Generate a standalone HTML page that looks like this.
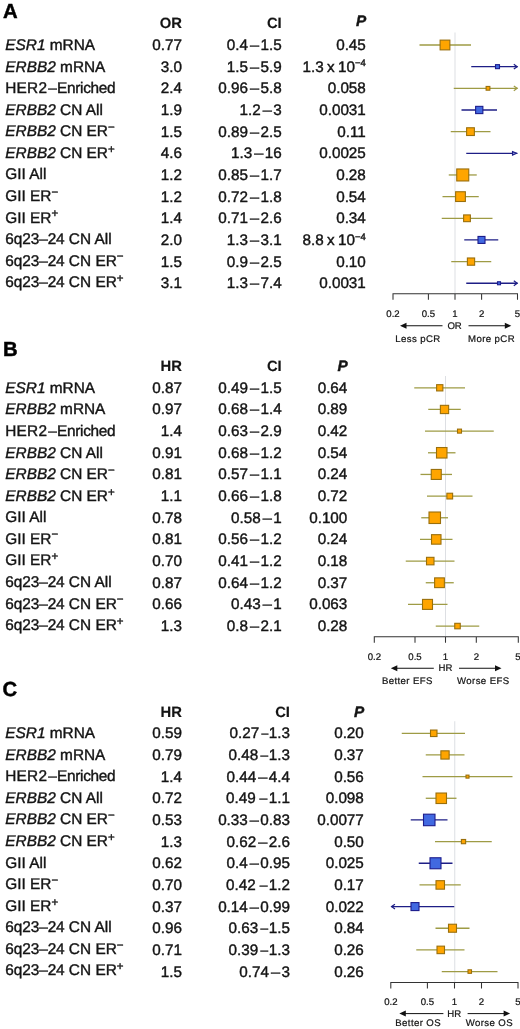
<!DOCTYPE html>
<html><head><meta charset="utf-8"><title>Forest plots</title>
<style>
html,body{margin:0;padding:0;background:#fff;}
svg{display:block;filter:blur(0.4px);font-family:"Liberation Sans",Arial,Helvetica,sans-serif;font-size:15.25px;fill:#141414;}
text{stroke:#141414;stroke-width:0.4px;text-rendering:geometricPrecision;}
text.b{stroke-width:0.15px;font-weight:bold;font-size:14.8px;}
text.L{font-weight:bold;font-size:20.3px;fill:#000;stroke:#000;stroke-width:0.45px;}
text.p{font-style:italic;font-size:15.3px;stroke-width:0.4px;}
text.s{stroke-width:0.22px;font-size:9.6px;text-rendering:geometricPrecision;}
</style></head><body>
<svg width="520" height="1029" viewBox="0 0 520 1029">
<rect width="520" height="1029" fill="#ffffff"/>
<!-- section A -->
<text x="2.90" y="18.00" text-anchor="start" class="L">A</text>
<text x="181.85" y="28.00" text-anchor="end" class="b">OR</text>
<text x="281.75" y="28.00" text-anchor="end" class="b">CI</text>
<text x="366.15" y="26.30" text-anchor="end" class="b p">P</text>
<line x1="455" y1="32.5" x2="455" y2="293.75" stroke="#c6c9d0" stroke-width="0.6"/>
<text x="5.30" y="50.00" text-anchor="start" font-size="15.4"><tspan font-style="italic">ESR1</tspan> mRNA</text>
<text x="182.05" y="50.00" text-anchor="end">0.77</text>
<text x="281.65" y="50.00" text-anchor="end">1.5</text>
<text transform="translate(249.95 50.00) scale(1.073 1)">–</text>
<text x="248.05" y="50.00" text-anchor="end">0.4</text>
<text x="365.85" y="50.00" text-anchor="end">0.45</text>
<line x1="419.5" y1="45.00" x2="471" y2="45.00" stroke="#9e9b45" stroke-width="1.3"/>
<rect x="440.12" y="40.12" width="9.75" height="9.75" fill="#ffa500" stroke="#9a6f0c" stroke-width="1.1"/>
<text x="5.30" y="71.57" text-anchor="start" font-size="15.4"><tspan font-style="italic">ERBB2</tspan> mRNA</text>
<text x="182.05" y="71.66" text-anchor="end">3.0</text>
<text x="281.65" y="71.66" text-anchor="end">5.9</text>
<text transform="translate(249.95 71.66) scale(1.073 1)">–</text>
<text x="248.05" y="71.66" text-anchor="end">1.5</text>
<text x="365.85" y="71.66" text-anchor="end" word-spacing="-0.9">1.3 x 10<tspan font-size="9.5" dy="-5.4">−4</tspan></text>
<line x1="471.25" y1="66.66" x2="517.5" y2="66.66" stroke="#1e1e86" stroke-width="1.3"/>
<path d="M513.80 64.26 L517.20 66.66 L513.80 69.06" fill="none" stroke="#1e1e86" stroke-width="1.2"/>
<rect x="495.50" y="64.66" width="4.00" height="4.00" fill="#4169e1" stroke="#1c1c8c" stroke-width="1.1"/>
<text x="5.30" y="93.14" text-anchor="start" font-size="15.4"><tspan letter-spacing="0.2">HER2</tspan><tspan dx="1.0">–</tspan><tspan dx="0.3" letter-spacing="-0.3">Enriched</tspan></text>
<text x="182.05" y="93.32" text-anchor="end">2.4</text>
<text x="281.65" y="93.32" text-anchor="end">5.8</text>
<text transform="translate(249.95 93.32) scale(1.073 1)">–</text>
<text x="248.05" y="93.32" text-anchor="end">0.96</text>
<text x="365.85" y="93.32" text-anchor="end">0.058</text>
<line x1="453.75" y1="88.32" x2="517.5" y2="88.32" stroke="#9e9b45" stroke-width="1.3"/>
<path d="M513.80 85.92 L517.20 88.32 L513.80 90.72" fill="none" stroke="#9e9b45" stroke-width="1.2"/>
<rect x="486.12" y="86.44" width="3.75" height="3.75" fill="#ffa500" stroke="#9a6f0c" stroke-width="1.1"/>
<text x="5.30" y="114.71" text-anchor="start" font-size="15.4"><tspan font-style="italic">ERBB2</tspan> CN All</text>
<text x="182.05" y="114.98" text-anchor="end">1.9</text>
<text x="281.65" y="114.98" text-anchor="end">3</text>
<text transform="translate(262.67 114.98) scale(1.073 1)">–</text>
<text x="260.77" y="114.98" text-anchor="end">1.2</text>
<text x="365.85" y="114.98" text-anchor="end">0.0031</text>
<line x1="461.5" y1="109.98" x2="497" y2="109.98" stroke="#1e1e86" stroke-width="1.3"/>
<rect x="475.62" y="106.36" width="7.25" height="7.25" fill="#4169e1" stroke="#1c1c8c" stroke-width="1.1"/>
<text x="5.30" y="136.28" text-anchor="start" font-size="15.4"><tspan font-style="italic">ERBB2</tspan> CN ER<tspan font-size="11.5" dy="-5.3">−</tspan></text>
<text x="182.05" y="136.64" text-anchor="end">1.5</text>
<text x="281.65" y="136.64" text-anchor="end">2.5</text>
<text transform="translate(249.95 136.64) scale(1.073 1)">–</text>
<text x="248.05" y="136.64" text-anchor="end">0.89</text>
<text x="365.85" y="136.64" text-anchor="end">0.11</text>
<line x1="450.75" y1="131.64" x2="490.5" y2="131.64" stroke="#9e9b45" stroke-width="1.3"/>
<rect x="466.62" y="127.76" width="7.75" height="7.75" fill="#ffa500" stroke="#9a6f0c" stroke-width="1.1"/>
<text x="5.30" y="157.85" text-anchor="start" font-size="15.4"><tspan font-style="italic">ERBB2</tspan> CN ER<tspan font-size="11.5" dy="-5.1">+</tspan></text>
<text x="182.05" y="158.30" text-anchor="end">4.6</text>
<text x="281.65" y="158.30" text-anchor="end">16</text>
<text transform="translate(254.19 158.30) scale(1.073 1)">–</text>
<text x="252.29" y="158.30" text-anchor="end">1.3</text>
<text x="365.85" y="158.30" text-anchor="end">0.0025</text>
<line x1="466.25" y1="153.30" x2="517.3" y2="153.30" stroke="#1e1e86" stroke-width="1.3"/>
<path d="M512.50 151.50 L516.60 153.30 L512.50 155.10 Z" fill="#8fa0e8" stroke="#1e1e86" stroke-width="1.1"/>
<text x="5.30" y="179.42" text-anchor="start" font-size="15.4">GII All</text>
<text x="182.05" y="179.96" text-anchor="end">1.2</text>
<text x="281.65" y="179.96" text-anchor="end">1.7</text>
<text transform="translate(249.95 179.96) scale(1.073 1)">–</text>
<text x="248.05" y="179.96" text-anchor="end">0.85</text>
<text x="365.85" y="179.96" text-anchor="end">0.28</text>
<line x1="448.75" y1="174.96" x2="476.75" y2="174.96" stroke="#9e9b45" stroke-width="1.3"/>
<rect x="456.75" y="168.96" width="12.00" height="12.00" fill="#ffa500" stroke="#9a6f0c" stroke-width="1.1"/>
<text x="5.30" y="200.99" text-anchor="start" font-size="15.4">GII ER<tspan font-size="11.5" dy="-5.3">−</tspan></text>
<text x="182.05" y="201.62" text-anchor="end">1.2</text>
<text x="281.65" y="201.62" text-anchor="end">1.8</text>
<text transform="translate(249.95 201.62) scale(1.073 1)">–</text>
<text x="248.05" y="201.62" text-anchor="end">0.72</text>
<text x="365.85" y="201.62" text-anchor="end">0.54</text>
<line x1="442.5" y1="196.62" x2="478.75" y2="196.62" stroke="#9e9b45" stroke-width="1.3"/>
<rect x="455.62" y="191.75" width="9.75" height="9.75" fill="#ffa500" stroke="#9a6f0c" stroke-width="1.1"/>
<text x="5.30" y="222.56" text-anchor="start" font-size="15.4">GII ER<tspan font-size="11.5" dy="-5.1">+</tspan></text>
<text x="182.05" y="223.28" text-anchor="end">1.4</text>
<text x="281.65" y="223.28" text-anchor="end">2.6</text>
<text transform="translate(249.95 223.28) scale(1.073 1)">–</text>
<text x="248.05" y="223.28" text-anchor="end">0.71</text>
<text x="365.85" y="223.28" text-anchor="end">0.34</text>
<line x1="441.75" y1="218.28" x2="492.5" y2="218.28" stroke="#9e9b45" stroke-width="1.3"/>
<rect x="463.62" y="214.91" width="6.75" height="6.75" fill="#ffa500" stroke="#9a6f0c" stroke-width="1.1"/>
<text x="5.30" y="244.13" text-anchor="start" font-size="15.4"><tspan letter-spacing="-0.09">6q23–24</tspan> CN All</text>
<text x="182.05" y="244.94" text-anchor="end">2.0</text>
<text x="281.65" y="244.94" text-anchor="end">3.1</text>
<text transform="translate(249.95 244.94) scale(1.073 1)">–</text>
<text x="248.05" y="244.94" text-anchor="end">1.3</text>
<text x="365.85" y="244.94" text-anchor="end" word-spacing="-0.9">8.8 x 10<tspan font-size="9.5" dy="-5.4">−4</tspan></text>
<line x1="464.25" y1="239.94" x2="498.25" y2="239.94" stroke="#1e1e86" stroke-width="1.3"/>
<rect x="478.00" y="236.44" width="7.00" height="7.00" fill="#4169e1" stroke="#1c1c8c" stroke-width="1.1"/>
<text x="5.30" y="265.70" text-anchor="start" font-size="15.4"><tspan letter-spacing="-0.09">6q23–24</tspan> CN ER<tspan font-size="11.5" dy="-5.3">−</tspan></text>
<text x="182.05" y="266.60" text-anchor="end">1.5</text>
<text x="281.65" y="266.60" text-anchor="end">2.5</text>
<text transform="translate(249.95 266.60) scale(1.073 1)">–</text>
<text x="248.05" y="266.60" text-anchor="end">0.9</text>
<text x="365.85" y="266.60" text-anchor="end">0.10</text>
<line x1="451.25" y1="261.60" x2="491.25" y2="261.60" stroke="#9e9b45" stroke-width="1.3"/>
<rect x="467.38" y="257.98" width="7.25" height="7.25" fill="#ffa500" stroke="#9a6f0c" stroke-width="1.1"/>
<text x="5.30" y="287.27" text-anchor="start" font-size="15.4"><tspan letter-spacing="-0.09">6q23–24</tspan> CN ER<tspan font-size="11.5" dy="-5.1">+</tspan></text>
<text x="182.05" y="288.26" text-anchor="end">3.1</text>
<text x="281.65" y="288.26" text-anchor="end">7.4</text>
<text transform="translate(249.95 288.26) scale(1.073 1)">–</text>
<text x="248.05" y="288.26" text-anchor="end">1.3</text>
<text x="365.85" y="288.26" text-anchor="end">0.0031</text>
<line x1="466.25" y1="283.26" x2="517.5" y2="283.26" stroke="#1e1e86" stroke-width="1.3"/>
<path d="M513.80 280.86 L517.20 283.26 L513.80 285.66" fill="none" stroke="#1e1e86" stroke-width="1.2"/>
<rect x="497.50" y="281.76" width="3.00" height="3.00" fill="#4169e1" stroke="#1c1c8c" stroke-width="1.1"/>
<path d="M393 299.75 V293.75 H517.5 V299.75 M428.4 293.75 V299.75 M455 293.75 V299.75 M481.6 293.75 V299.75" fill="none" stroke="#333" stroke-width="1.05"/>
<text x="393.00" y="316.95" text-anchor="middle" class="s">0.2</text>
<text x="428.40" y="316.95" text-anchor="middle" class="s">0.5</text>
<text x="455.00" y="316.95" text-anchor="middle" class="s">1</text>
<text x="481.60" y="316.95" text-anchor="middle" class="s">2</text>
<text x="517.30" y="316.95" text-anchor="middle" class="s">5</text>
<text x="454.60" y="329.05" text-anchor="middle" class="s">OR</text>
<path d="M405 325.75 H442.5" stroke="#111" stroke-width="1" fill="none"/><path d="M400 325.75 l6.5 -3 v6z" fill="#111"/>
<path d="M468.5 325.75 H506.3" stroke="#111" stroke-width="1" fill="none"/><path d="M511.3 325.75 l-6.5 -3 v6z" fill="#111"/>
<text x="417.90" y="341.55" text-anchor="middle" class="s" letter-spacing="0.4">Less pCR</text>
<text x="491.55" y="341.55" text-anchor="middle" class="s" letter-spacing="0.4">More pCR</text>
<!-- section B -->
<text x="2.90" y="355.75" text-anchor="start" class="L">B</text>
<text x="181.85" y="370.75" text-anchor="end" class="b">HR</text>
<text x="281.75" y="370.75" text-anchor="end" class="b">CI</text>
<text x="347.65" y="370.55" text-anchor="end" class="b p">P</text>
<line x1="445.5" y1="376" x2="445.5" y2="636.75" stroke="#c6c9d0" stroke-width="0.6"/>
<text x="5.30" y="392.80" text-anchor="start" font-size="15.4"><tspan font-style="italic">ESR1</tspan> mRNA</text>
<text x="182.05" y="392.80" text-anchor="end">0.87</text>
<text x="281.65" y="392.80" text-anchor="end">1.5</text>
<text transform="translate(249.95 392.80) scale(1.073 1)">–</text>
<text x="248.05" y="392.80" text-anchor="end">0.49</text>
<text x="347.35" y="392.80" text-anchor="end">0.64</text>
<line x1="414.25" y1="387.80" x2="465" y2="387.80" stroke="#9e9b45" stroke-width="1.3"/>
<rect x="436.62" y="384.68" width="6.25" height="6.25" fill="#ffa500" stroke="#9a6f0c" stroke-width="1.1"/>
<text x="5.30" y="414.37" text-anchor="start" font-size="15.4"><tspan font-style="italic">ERBB2</tspan> mRNA</text>
<text x="182.05" y="414.46" text-anchor="end">0.97</text>
<text x="281.65" y="414.46" text-anchor="end">1.4</text>
<text transform="translate(249.95 414.46) scale(1.073 1)">–</text>
<text x="248.05" y="414.46" text-anchor="end">0.68</text>
<text x="347.35" y="414.46" text-anchor="end">0.89</text>
<line x1="428.25" y1="409.46" x2="460.75" y2="409.46" stroke="#9e9b45" stroke-width="1.3"/>
<rect x="440.38" y="405.34" width="8.25" height="8.25" fill="#ffa500" stroke="#9a6f0c" stroke-width="1.1"/>
<text x="5.30" y="435.94" text-anchor="start" font-size="15.4"><tspan letter-spacing="0.2">HER2</tspan><tspan dx="1.0">–</tspan><tspan dx="0.3" letter-spacing="-0.3">Enriched</tspan></text>
<text x="182.05" y="436.12" text-anchor="end">1.4</text>
<text x="281.65" y="436.12" text-anchor="end">2.9</text>
<text transform="translate(249.95 436.12) scale(1.073 1)">–</text>
<text x="248.05" y="436.12" text-anchor="end">0.63</text>
<text x="347.35" y="436.12" text-anchor="end">0.42</text>
<line x1="425" y1="431.12" x2="493.75" y2="431.12" stroke="#9e9b45" stroke-width="1.3"/>
<rect x="457.50" y="429.12" width="4.00" height="4.00" fill="#ffa500" stroke="#9a6f0c" stroke-width="1.1"/>
<text x="5.30" y="457.51" text-anchor="start" font-size="15.4"><tspan font-style="italic">ERBB2</tspan> CN All</text>
<text x="182.05" y="457.78" text-anchor="end">0.91</text>
<text x="281.65" y="457.78" text-anchor="end">1.2</text>
<text transform="translate(249.95 457.78) scale(1.073 1)">–</text>
<text x="248.05" y="457.78" text-anchor="end">0.68</text>
<text x="347.35" y="457.78" text-anchor="end">0.54</text>
<line x1="428" y1="452.78" x2="455.5" y2="452.78" stroke="#9e9b45" stroke-width="1.3"/>
<rect x="436.50" y="447.53" width="10.50" height="10.50" fill="#ffa500" stroke="#9a6f0c" stroke-width="1.1"/>
<text x="5.30" y="479.08" text-anchor="start" font-size="15.4"><tspan font-style="italic">ERBB2</tspan> CN ER<tspan font-size="11.5" dy="-5.3">−</tspan></text>
<text x="182.05" y="479.44" text-anchor="end">0.81</text>
<text x="281.65" y="479.44" text-anchor="end">1.1</text>
<text transform="translate(249.95 479.44) scale(1.073 1)">–</text>
<text x="248.05" y="479.44" text-anchor="end">0.57</text>
<text x="347.35" y="479.44" text-anchor="end">0.24</text>
<line x1="420.5" y1="474.44" x2="452" y2="474.44" stroke="#9e9b45" stroke-width="1.3"/>
<rect x="431.25" y="469.44" width="10.00" height="10.00" fill="#ffa500" stroke="#9a6f0c" stroke-width="1.1"/>
<text x="5.30" y="500.65" text-anchor="start" font-size="15.4"><tspan font-style="italic">ERBB2</tspan> CN ER<tspan font-size="11.5" dy="-5.1">+</tspan></text>
<text x="182.05" y="501.10" text-anchor="end">1.1</text>
<text x="281.65" y="501.10" text-anchor="end">1.8</text>
<text transform="translate(249.95 501.10) scale(1.073 1)">–</text>
<text x="248.05" y="501.10" text-anchor="end">0.66</text>
<text x="347.35" y="501.10" text-anchor="end">0.72</text>
<line x1="427" y1="496.10" x2="472.5" y2="496.10" stroke="#9e9b45" stroke-width="1.3"/>
<rect x="446.88" y="493.23" width="5.75" height="5.75" fill="#ffa500" stroke="#9a6f0c" stroke-width="1.1"/>
<text x="5.30" y="522.22" text-anchor="start" font-size="15.4">GII All</text>
<text x="182.05" y="522.76" text-anchor="end">0.78</text>
<text x="281.65" y="522.76" text-anchor="end">1</text>
<text transform="translate(262.67 522.76) scale(1.073 1)">–</text>
<text x="260.77" y="522.76" text-anchor="end">0.58</text>
<text x="347.35" y="522.76" text-anchor="end">0.100</text>
<line x1="421.25" y1="517.76" x2="448" y2="517.76" stroke="#9e9b45" stroke-width="1.3"/>
<rect x="429.00" y="512.01" width="11.50" height="11.50" fill="#ffa500" stroke="#9a6f0c" stroke-width="1.1"/>
<text x="5.30" y="543.79" text-anchor="start" font-size="15.4">GII ER<tspan font-size="11.5" dy="-5.3">−</tspan></text>
<text x="182.05" y="544.42" text-anchor="end">0.81</text>
<text x="281.65" y="544.42" text-anchor="end">1.2</text>
<text transform="translate(249.95 544.42) scale(1.073 1)">–</text>
<text x="248.05" y="544.42" text-anchor="end">0.56</text>
<text x="347.35" y="544.42" text-anchor="end">0.24</text>
<line x1="420" y1="539.42" x2="452.5" y2="539.42" stroke="#9e9b45" stroke-width="1.3"/>
<rect x="431.50" y="534.67" width="9.50" height="9.50" fill="#ffa500" stroke="#9a6f0c" stroke-width="1.1"/>
<text x="5.30" y="565.36" text-anchor="start" font-size="15.4">GII ER<tspan font-size="11.5" dy="-5.1">+</tspan></text>
<text x="182.05" y="566.08" text-anchor="end">0.70</text>
<text x="281.65" y="566.08" text-anchor="end">1.2</text>
<text transform="translate(249.95 566.08) scale(1.073 1)">–</text>
<text x="248.05" y="566.08" text-anchor="end">0.41</text>
<text x="347.35" y="566.08" text-anchor="end">0.18</text>
<line x1="405.75" y1="561.08" x2="454.5" y2="561.08" stroke="#9e9b45" stroke-width="1.3"/>
<rect x="426.50" y="557.33" width="7.50" height="7.50" fill="#ffa500" stroke="#9a6f0c" stroke-width="1.1"/>
<text x="5.30" y="586.93" text-anchor="start" font-size="15.4"><tspan letter-spacing="-0.09">6q23–24</tspan> CN All</text>
<text x="182.05" y="587.74" text-anchor="end">0.87</text>
<text x="281.65" y="587.74" text-anchor="end">1.2</text>
<text transform="translate(249.95 587.74) scale(1.073 1)">–</text>
<text x="248.05" y="587.74" text-anchor="end">0.64</text>
<text x="347.35" y="587.74" text-anchor="end">0.37</text>
<line x1="425.75" y1="582.74" x2="453.75" y2="582.74" stroke="#9e9b45" stroke-width="1.3"/>
<rect x="434.62" y="577.87" width="9.75" height="9.75" fill="#ffa500" stroke="#9a6f0c" stroke-width="1.1"/>
<text x="5.30" y="608.50" text-anchor="start" font-size="15.4"><tspan letter-spacing="-0.09">6q23–24</tspan> CN ER<tspan font-size="11.5" dy="-5.3">−</tspan></text>
<text x="182.05" y="609.40" text-anchor="end">0.66</text>
<text x="281.65" y="609.40" text-anchor="end">1</text>
<text transform="translate(262.67 609.40) scale(1.073 1)">–</text>
<text x="260.77" y="609.40" text-anchor="end">0.43</text>
<text x="347.35" y="609.40" text-anchor="end">0.063</text>
<line x1="408" y1="604.40" x2="447.5" y2="604.40" stroke="#9e9b45" stroke-width="1.3"/>
<rect x="422.50" y="599.40" width="10.00" height="10.00" fill="#ffa500" stroke="#9a6f0c" stroke-width="1.1"/>
<text x="5.30" y="630.07" text-anchor="start" font-size="15.4"><tspan letter-spacing="-0.09">6q23–24</tspan> CN ER<tspan font-size="11.5" dy="-5.1">+</tspan></text>
<text x="182.05" y="631.06" text-anchor="end">1.3</text>
<text x="281.65" y="631.06" text-anchor="end">2.1</text>
<text transform="translate(249.95 631.06) scale(1.073 1)">–</text>
<text x="248.05" y="631.06" text-anchor="end">0.8</text>
<text x="347.35" y="631.06" text-anchor="end">0.28</text>
<line x1="435.75" y1="626.06" x2="479.25" y2="626.06" stroke="#9e9b45" stroke-width="1.3"/>
<rect x="454.75" y="623.31" width="5.50" height="5.50" fill="#ffa500" stroke="#9a6f0c" stroke-width="1.1"/>
<path d="M374.3 642.75 V636.75 H518.3 V642.75 M415 636.75 V642.75 M445.5 636.75 V642.75 M476.3 636.75 V642.75" fill="none" stroke="#333" stroke-width="1.05"/>
<text x="374.30" y="659.75" text-anchor="middle" class="s">0.2</text>
<text x="415.00" y="659.75" text-anchor="middle" class="s">0.5</text>
<text x="445.50" y="659.75" text-anchor="middle" class="s">1</text>
<text x="476.30" y="659.75" text-anchor="middle" class="s">2</text>
<text x="518.00" y="659.75" text-anchor="middle" class="s">5</text>
<text x="445.50" y="671.45" text-anchor="middle" class="s">HR</text>
<path d="M395.8 668.25 H433.8" stroke="#111" stroke-width="1" fill="none"/><path d="M390.8 668.25 l6.5 -3 v6z" fill="#111"/>
<path d="M459 668.25 H496.5" stroke="#111" stroke-width="1" fill="none"/><path d="M501.5 668.25 l-6.5 -3 v6z" fill="#111"/>
<text x="407.40" y="683.55" text-anchor="middle" class="s" letter-spacing="0.4">Better EFS</text>
<text x="483.25" y="683.55" text-anchor="middle" class="s" letter-spacing="0.4">Worse EFS</text>
<!-- section C -->
<text x="2.40" y="695.75" text-anchor="start" class="L">C</text>
<text x="181.85" y="716.75" text-anchor="end" class="b">HR</text>
<text x="290.00" y="716.75" text-anchor="end" class="b">CI</text>
<text x="364.15" y="716.55" text-anchor="end" class="b p">P</text>
<line x1="454.75" y1="721.25" x2="454.75" y2="982.5" stroke="#c6c9d0" stroke-width="0.6"/>
<text x="5.30" y="738.10" text-anchor="start" font-size="15.4"><tspan font-style="italic">ESR1</tspan> mRNA</text>
<text x="182.05" y="738.30" text-anchor="end">0.59</text>
<text x="289.90" y="738.30" text-anchor="end">1.3</text>
<text transform="translate(261.40 738.30) scale(0.802 1)">–</text>
<text x="259.30" y="738.30" text-anchor="end">0.27</text>
<text x="363.85" y="738.30" text-anchor="end">0.20</text>
<line x1="401.75" y1="733.30" x2="465" y2="733.30" stroke="#9e9b45" stroke-width="1.3"/>
<rect x="430.50" y="730.05" width="6.50" height="6.50" fill="#ffa500" stroke="#9a6f0c" stroke-width="1.1"/>
<text x="5.30" y="759.67" text-anchor="start" font-size="15.4"><tspan font-style="italic">ERBB2</tspan> mRNA</text>
<text x="182.05" y="759.96" text-anchor="end">0.79</text>
<text x="289.90" y="759.96" text-anchor="end">1.3</text>
<text transform="translate(260.60 759.96) scale(0.896 1)">–</text>
<text x="258.30" y="759.96" text-anchor="end">0.48</text>
<text x="363.85" y="759.96" text-anchor="end">0.37</text>
<line x1="425.75" y1="754.96" x2="464.5" y2="754.96" stroke="#9e9b45" stroke-width="1.3"/>
<rect x="440.88" y="750.83" width="8.25" height="8.25" fill="#ffa500" stroke="#9a6f0c" stroke-width="1.1"/>
<text x="5.30" y="781.24" text-anchor="start" font-size="15.4"><tspan letter-spacing="0.2">HER2</tspan><tspan dx="1.0">–</tspan><tspan dx="0.3" letter-spacing="-0.3">Enriched</tspan></text>
<text x="182.05" y="781.62" text-anchor="end">1.4</text>
<text x="289.90" y="781.62" text-anchor="end">4.4</text>
<text transform="translate(258.20 781.62) scale(1.073 1)">–</text>
<text x="256.30" y="781.62" text-anchor="end">0.44</text>
<text x="363.85" y="781.62" text-anchor="end">0.56</text>
<line x1="422.5" y1="776.62" x2="512.5" y2="776.62" stroke="#9e9b45" stroke-width="1.3"/>
<rect x="466.00" y="775.12" width="3.00" height="3.00" fill="#ffa500" stroke="#9a6f0c" stroke-width="1.1"/>
<text x="5.30" y="802.81" text-anchor="start" font-size="15.4"><tspan font-style="italic">ERBB2</tspan> CN All</text>
<text x="182.05" y="803.28" text-anchor="end">0.72</text>
<text x="289.90" y="803.28" text-anchor="end">1.1</text>
<text transform="translate(259.60 803.28) scale(0.920 1)">–</text>
<text x="255.70" y="803.28" text-anchor="end">0.49</text>
<text x="363.85" y="803.28" text-anchor="end">0.098</text>
<line x1="425.75" y1="798.28" x2="456.5" y2="798.28" stroke="#9e9b45" stroke-width="1.3"/>
<rect x="436.00" y="793.03" width="10.50" height="10.50" fill="#ffa500" stroke="#9a6f0c" stroke-width="1.1"/>
<text x="5.30" y="824.38" text-anchor="start" font-size="15.4"><tspan font-style="italic">ERBB2</tspan> CN ER<tspan font-size="11.5" dy="-5.3">−</tspan></text>
<text x="182.05" y="824.94" text-anchor="end">0.53</text>
<text x="289.90" y="824.94" text-anchor="end">0.83</text>
<text transform="translate(249.72 824.94) scale(1.073 1)">–</text>
<text x="247.82" y="824.94" text-anchor="end">0.33</text>
<text x="363.85" y="824.94" text-anchor="end">0.0077</text>
<line x1="410.75" y1="819.94" x2="447.5" y2="819.94" stroke="#1e1e86" stroke-width="1.3"/>
<rect x="423.50" y="814.19" width="11.50" height="11.50" fill="#4169e1" stroke="#1c1c8c" stroke-width="1.1"/>
<text x="5.30" y="845.95" text-anchor="start" font-size="15.4"><tspan font-style="italic">ERBB2</tspan> CN ER<tspan font-size="11.5" dy="-5.1">+</tspan></text>
<text x="182.05" y="846.60" text-anchor="end">1.3</text>
<text x="289.90" y="846.60" text-anchor="end">2.6</text>
<text transform="translate(258.20 846.60) scale(1.073 1)">–</text>
<text x="256.30" y="846.60" text-anchor="end">0.62</text>
<text x="363.85" y="846.60" text-anchor="end">0.50</text>
<line x1="435" y1="841.60" x2="491.75" y2="841.60" stroke="#9e9b45" stroke-width="1.3"/>
<rect x="461.38" y="839.47" width="4.25" height="4.25" fill="#ffa500" stroke="#9a6f0c" stroke-width="1.1"/>
<text x="5.30" y="867.52" text-anchor="start" font-size="15.4">GII All</text>
<text x="182.05" y="868.26" text-anchor="end">0.62</text>
<text x="289.90" y="868.26" text-anchor="end">0.95</text>
<text transform="translate(249.72 868.26) scale(1.073 1)">–</text>
<text x="247.82" y="868.26" text-anchor="end">0.4</text>
<text x="363.85" y="868.26" text-anchor="end">0.025</text>
<line x1="418.75" y1="863.26" x2="452.5" y2="863.26" stroke="#1e1e86" stroke-width="1.3"/>
<rect x="430.00" y="857.76" width="11.00" height="11.00" fill="#4169e1" stroke="#1c1c8c" stroke-width="1.1"/>
<text x="5.30" y="889.09" text-anchor="start" font-size="15.4">GII ER<tspan font-size="11.5" dy="-5.3">−</tspan></text>
<text x="182.05" y="889.92" text-anchor="end">0.70</text>
<text x="289.90" y="889.92" text-anchor="end">1.2</text>
<text transform="translate(259.80 889.92) scale(0.920 1)">–</text>
<text x="255.70" y="889.92" text-anchor="end">0.42</text>
<text x="363.85" y="889.92" text-anchor="end">0.17</text>
<line x1="419.5" y1="884.92" x2="460.75" y2="884.92" stroke="#9e9b45" stroke-width="1.3"/>
<rect x="436.00" y="880.67" width="8.50" height="8.50" fill="#ffa500" stroke="#9a6f0c" stroke-width="1.1"/>
<text x="5.30" y="910.66" text-anchor="start" font-size="15.4">GII ER<tspan font-size="11.5" dy="-5.1">+</tspan></text>
<text x="182.05" y="911.58" text-anchor="end">0.37</text>
<text x="289.90" y="911.58" text-anchor="end">0.99</text>
<text transform="translate(249.72 911.58) scale(1.073 1)">–</text>
<text x="247.82" y="911.58" text-anchor="end">0.14</text>
<text x="363.85" y="911.58" text-anchor="end">0.022</text>
<line x1="391.25" y1="906.58" x2="454.25" y2="906.58" stroke="#1e1e86" stroke-width="1.3"/>
<path d="M394.95 904.18 L391.55 906.58 L394.95 908.98" fill="none" stroke="#1e1e86" stroke-width="1.2"/>
<rect x="411.00" y="902.58" width="8.00" height="8.00" fill="#4169e1" stroke="#1c1c8c" stroke-width="1.1"/>
<text x="5.30" y="932.23" text-anchor="start" font-size="15.4"><tspan letter-spacing="-0.09">6q23–24</tspan> CN All</text>
<text x="182.05" y="933.24" text-anchor="end">0.96</text>
<text x="289.90" y="933.24" text-anchor="end">1.5</text>
<text transform="translate(260.60 933.24) scale(0.896 1)">–</text>
<text x="258.30" y="933.24" text-anchor="end">0.63</text>
<text x="363.85" y="933.24" text-anchor="end">0.84</text>
<line x1="435.5" y1="928.24" x2="469.5" y2="928.24" stroke="#9e9b45" stroke-width="1.3"/>
<rect x="448.50" y="924.24" width="8.00" height="8.00" fill="#ffa500" stroke="#9a6f0c" stroke-width="1.1"/>
<text x="5.30" y="953.80" text-anchor="start" font-size="15.4"><tspan letter-spacing="-0.09">6q23–24</tspan> CN ER<tspan font-size="11.5" dy="-5.3">−</tspan></text>
<text x="182.05" y="954.90" text-anchor="end">0.71</text>
<text x="289.90" y="954.90" text-anchor="end">1.3</text>
<text transform="translate(260.60 954.90) scale(0.896 1)">–</text>
<text x="258.30" y="954.90" text-anchor="end">0.39</text>
<text x="363.85" y="954.90" text-anchor="end">0.26</text>
<line x1="416.25" y1="949.90" x2="464.5" y2="949.90" stroke="#9e9b45" stroke-width="1.3"/>
<rect x="437.00" y="946.15" width="7.50" height="7.50" fill="#ffa500" stroke="#9a6f0c" stroke-width="1.1"/>
<text x="5.30" y="975.37" text-anchor="start" font-size="15.4"><tspan letter-spacing="-0.09">6q23–24</tspan> CN ER<tspan font-size="11.5" dy="-5.1">+</tspan></text>
<text x="182.05" y="976.56" text-anchor="end">1.5</text>
<text x="289.90" y="976.56" text-anchor="end">3</text>
<text transform="translate(270.92 976.56) scale(1.073 1)">–</text>
<text x="269.02" y="976.56" text-anchor="end">0.74</text>
<text x="363.85" y="976.56" text-anchor="end">0.26</text>
<line x1="441.75" y1="971.56" x2="497.5" y2="971.56" stroke="#9e9b45" stroke-width="1.3"/>
<rect x="468.00" y="969.81" width="3.50" height="3.50" fill="#ffa500" stroke="#9a6f0c" stroke-width="1.1"/>
<path d="M390.8 988.5 V982.5 H518 V988.5 M427.4 982.5 V988.5 M454.5 982.5 V988.5 M481.5 982.5 V988.5" fill="none" stroke="#333" stroke-width="1.05"/>
<text x="390.80" y="1004.70" text-anchor="middle" class="s">0.2</text>
<text x="427.40" y="1004.70" text-anchor="middle" class="s">0.5</text>
<text x="454.50" y="1004.70" text-anchor="middle" class="s">1</text>
<text x="481.50" y="1004.70" text-anchor="middle" class="s">2</text>
<text x="518.00" y="1004.70" text-anchor="middle" class="s">5</text>
<text x="454.20" y="1017.10" text-anchor="middle" class="s">HR</text>
<path d="M404.3 1013.6 H443.4" stroke="#111" stroke-width="1" fill="none"/><path d="M399.3 1013.6 l6.5 -3 v6z" fill="#111"/>
<path d="M467.6 1013.6 H505.1" stroke="#111" stroke-width="1" fill="none"/><path d="M510.1 1013.6 l-6.5 -3 v6z" fill="#111"/>
<text x="418.15" y="1026.10" text-anchor="middle" class="s" letter-spacing="0.4">Better OS</text>
<text x="489.30" y="1026.10" text-anchor="middle" class="s" letter-spacing="0.4">Worse OS</text>
</svg>
</body></html>
